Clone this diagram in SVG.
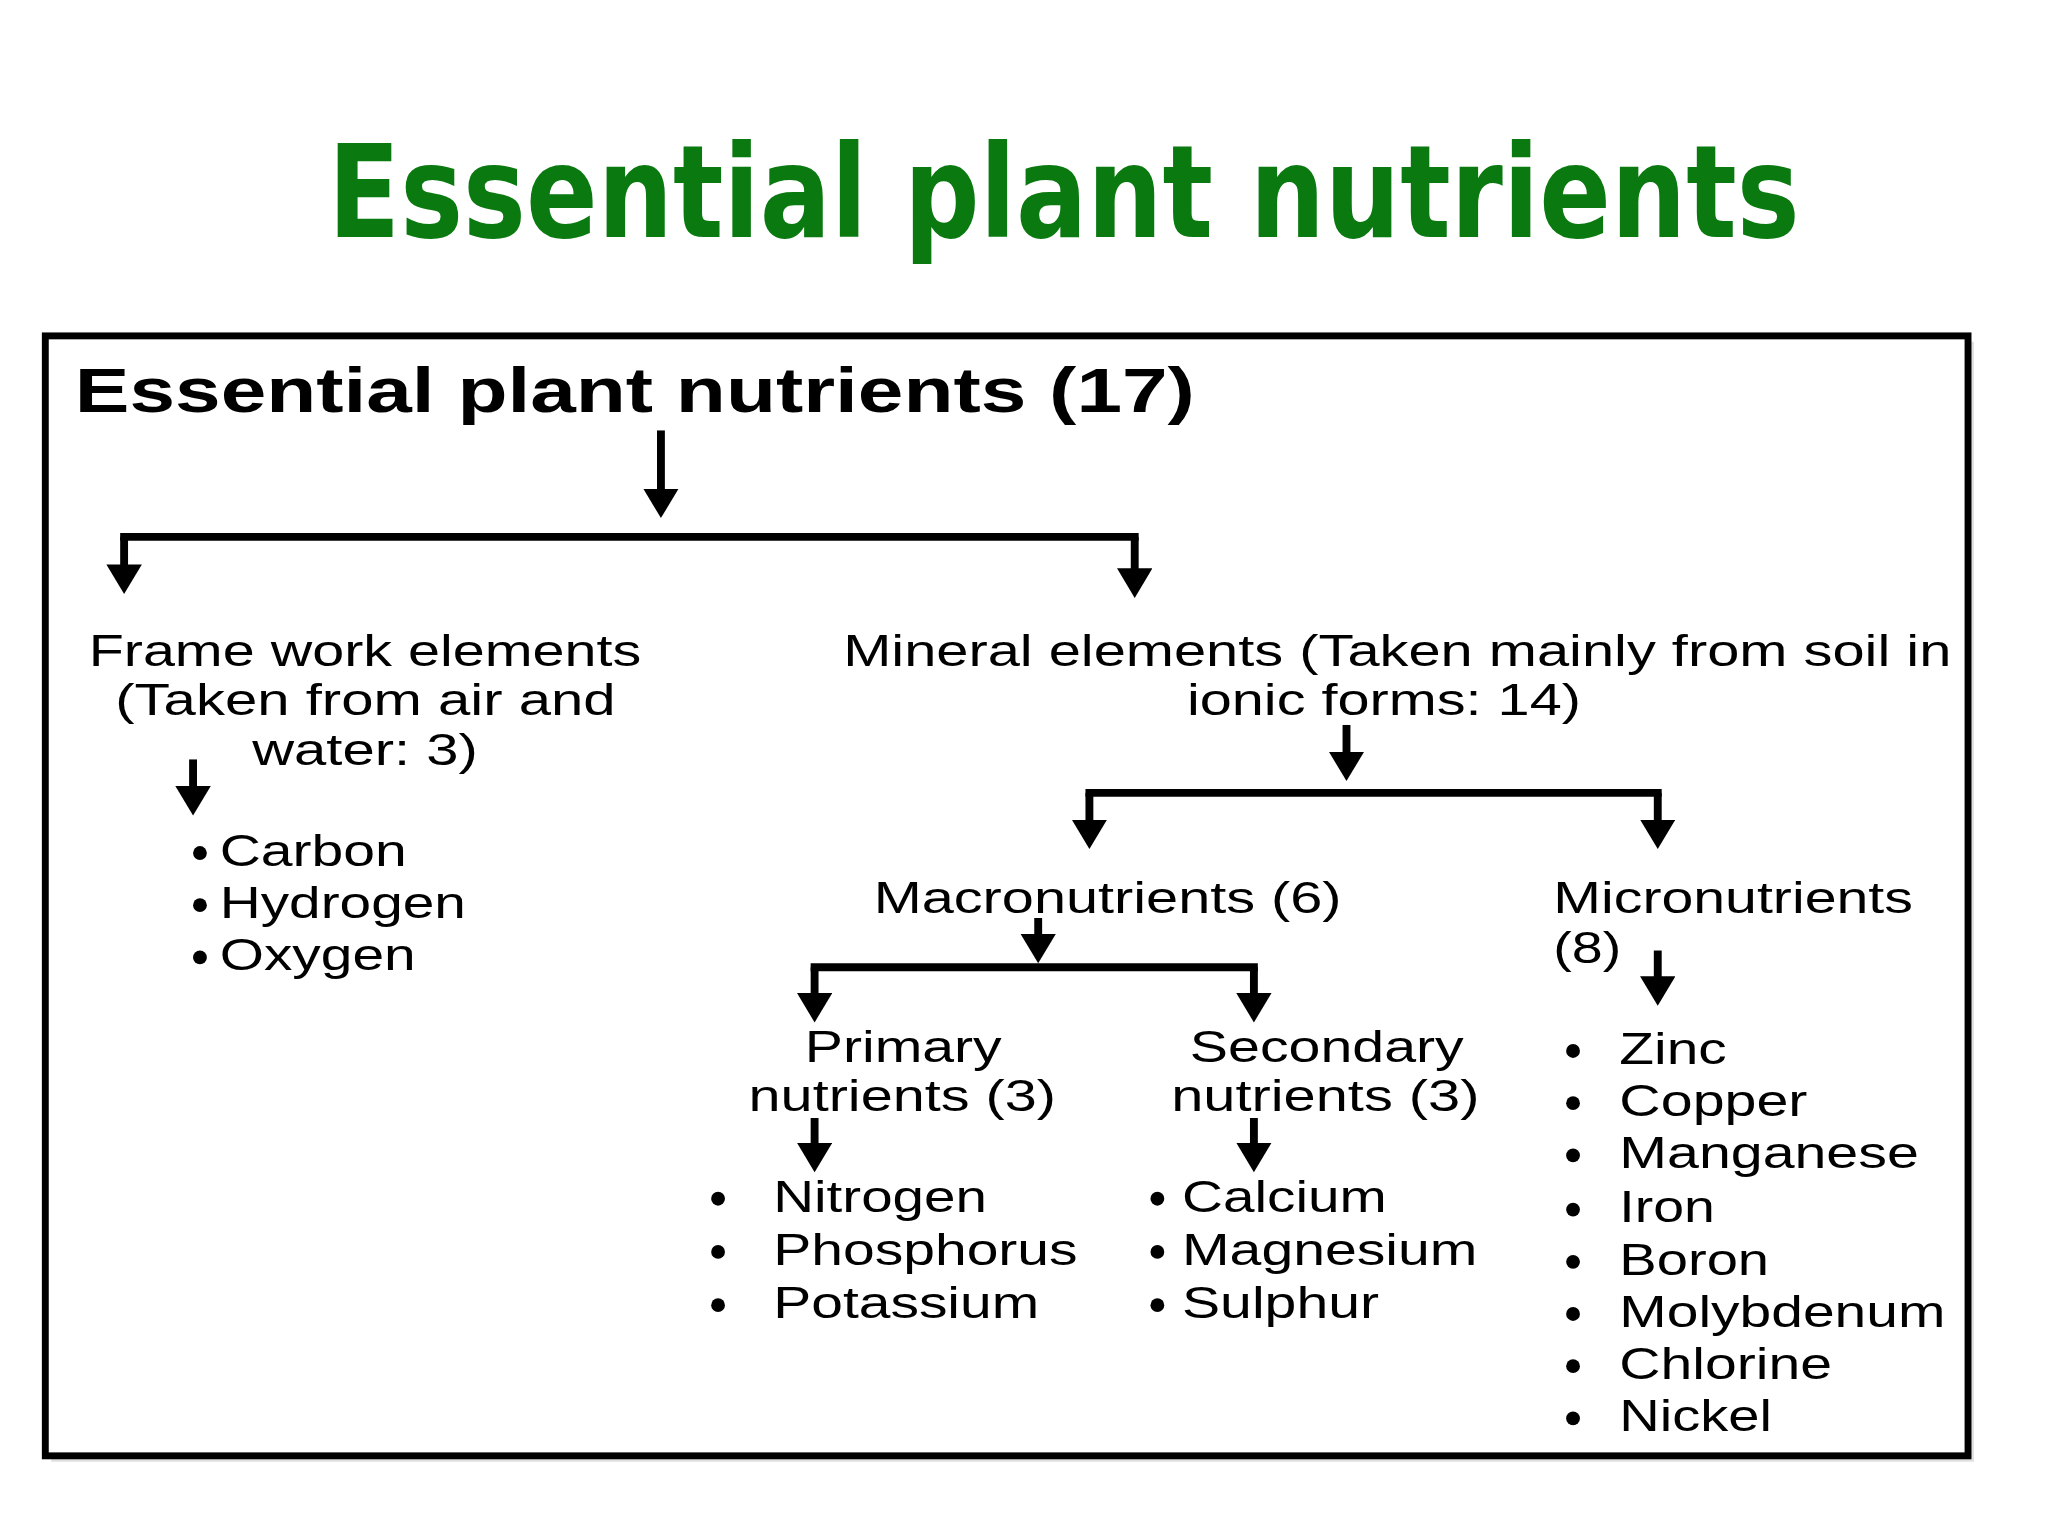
<svg xmlns="http://www.w3.org/2000/svg" width="2048" height="1536" viewBox="0 0 2048 1536">
<defs>
<marker id="ah" markerUnits="userSpaceOnUse" markerWidth="32" markerHeight="36" refX="10" refY="18" orient="auto" viewBox="0 0 32 36">
<path d="M0,0 L30,18 L0,36 z" fill="#000"/>
</marker>
</defs>
<style>
.t{font-family:"Liberation Sans",Arial,sans-serif;font-size:45px;fill:#000}
.c{stroke:#000;stroke-width:8;fill:none}
.a{stroke:#000;stroke-width:8;fill:none;marker-end:url(#ah)}
</style>
<rect width="2048" height="1536" fill="#fff"/>
<g transform="scale(0.985)">
<text x="1080" y="241" text-anchor="middle" font-family="'DejaVu Sans',sans-serif" font-weight="bold" font-size="130" fill="#0a7a10" textLength="1494" lengthAdjust="spacingAndGlyphs">Essential plant nutrients</text>
<rect x="52" y="347" width="1952" height="1137" fill="#ccc" opacity="0.6"/>
<rect x="46" y="341" width="1952" height="1137" fill="#fff" stroke="#000" stroke-width="7"/>
<g id="root"><text x="76" y="418" font-family="'Liberation Sans',Arial,sans-serif" font-weight="bold" font-size="64" textLength="1137" lengthAdjust="spacingAndGlyphs">Essential plant nutrients (17)</text></g>
<g id="frame" class="t">
<text x="90" y="676" textLength="561" lengthAdjust="spacingAndGlyphs">Frame work elements</text>
<text x="117" y="726" textLength="508" lengthAdjust="spacingAndGlyphs">(Taken from air and</text>
<text x="256" y="777" textLength="229" lengthAdjust="spacingAndGlyphs">water: 3)</text>
</g>
<g id="frame-list" class="t">
<circle cx="203" cy="866" r="7"/><circle cx="203" cy="919" r="7"/><circle cx="203" cy="972" r="7"/>
<text x="223" y="879" textLength="190" lengthAdjust="spacingAndGlyphs">Carbon</text>
<text x="223" y="932" textLength="250" lengthAdjust="spacingAndGlyphs">Hydrogen</text>
<text x="223" y="985" textLength="199" lengthAdjust="spacingAndGlyphs">Oxygen</text>
</g>
<g id="mineral" class="t">
<text x="856" y="676" textLength="1125" lengthAdjust="spacingAndGlyphs">Mineral elements (Taken mainly from soil in</text>
<text x="1205" y="726" textLength="400" lengthAdjust="spacingAndGlyphs">ionic forms: 14)</text>
</g>
<g id="macro" class="t"><text x="887" y="927" textLength="475" lengthAdjust="spacingAndGlyphs">Macronutrients (6)</text></g>
<g id="micro" class="t">
<text x="1577" y="927" textLength="365" lengthAdjust="spacingAndGlyphs">Micronutrients</text>
<text x="1577" y="978" textLength="69" lengthAdjust="spacingAndGlyphs">(8)</text>
</g>
<g id="primary" class="t">
<text x="817" y="1078" textLength="200" lengthAdjust="spacingAndGlyphs">Primary</text>
<text x="760" y="1128" textLength="312" lengthAdjust="spacingAndGlyphs">nutrients (3)</text>
</g>
<g id="secondary" class="t">
<text x="1208" y="1078" textLength="278" lengthAdjust="spacingAndGlyphs">Secondary</text>
<text x="1189" y="1128" textLength="313" lengthAdjust="spacingAndGlyphs">nutrients (3)</text>
</g>
<g id="primary-list" class="t">
<circle cx="729" cy="1217" r="7"/><circle cx="729" cy="1271" r="7"/><circle cx="729" cy="1325" r="7"/>
<text x="785" y="1230" textLength="217" lengthAdjust="spacingAndGlyphs">Nitrogen</text>
<text x="785" y="1284" textLength="309" lengthAdjust="spacingAndGlyphs">Phosphorus</text>
<text x="785" y="1338" textLength="270" lengthAdjust="spacingAndGlyphs">Potassium</text>
</g>
<g id="secondary-list" class="t">
<circle cx="1175" cy="1217" r="7"/><circle cx="1175" cy="1271" r="7"/><circle cx="1175" cy="1325" r="7"/>
<text x="1200" y="1230" textLength="208" lengthAdjust="spacingAndGlyphs">Calcium</text>
<text x="1200" y="1284" textLength="300" lengthAdjust="spacingAndGlyphs">Magnesium</text>
<text x="1200" y="1338" textLength="200" lengthAdjust="spacingAndGlyphs">Sulphur</text>
</g>
<g id="micro-list" class="t">
<circle cx="1597" cy="1067" r="7"/><circle cx="1597" cy="1120" r="7"/><circle cx="1597" cy="1173" r="7"/><circle cx="1597" cy="1228" r="7"/><circle cx="1597" cy="1281" r="7"/><circle cx="1597" cy="1334" r="7"/><circle cx="1597" cy="1387" r="7"/><circle cx="1597" cy="1440" r="7"/>
<text x="1644" y="1080" textLength="109" lengthAdjust="spacingAndGlyphs">Zinc</text>
<text x="1644" y="1133" textLength="191" lengthAdjust="spacingAndGlyphs">Copper</text>
<text x="1644" y="1186" textLength="304" lengthAdjust="spacingAndGlyphs">Manganese</text>
<text x="1644" y="1241" textLength="97" lengthAdjust="spacingAndGlyphs">Iron</text>
<text x="1644" y="1294" textLength="152" lengthAdjust="spacingAndGlyphs">Boron</text>
<text x="1644" y="1347" textLength="331" lengthAdjust="spacingAndGlyphs">Molybdenum</text>
<text x="1644" y="1400" textLength="216" lengthAdjust="spacingAndGlyphs">Chlorine</text>
<text x="1644" y="1453" textLength="155" lengthAdjust="spacingAndGlyphs">Nickel</text>
</g>
<g id="connectors">
<path class="a" d="M671,437 V506"/>
<path class="c" d="M122,545 H1156"/>
<path class="a" d="M126,545 V583"/>
<path class="a" d="M1152,545 V587"/>
<path class="a" d="M196,771 V808"/>
<path class="a" d="M1367,736 V773"/>
<path class="c" d="M1102,805 H1687"/>
<path class="a" d="M1106,805 V842"/>
<path class="a" d="M1683,805 V842"/>
<path class="a" d="M1054,932 V958"/>
<path class="c" d="M823,982 H1277"/>
<path class="a" d="M827,982 V1018"/>
<path class="a" d="M1273,982 V1018"/>
<path class="a" d="M1683,965 V1001"/>
<path class="a" d="M827,1135 V1170"/>
<path class="a" d="M1273,1135 V1170"/>
</g>
</g>
</svg>
